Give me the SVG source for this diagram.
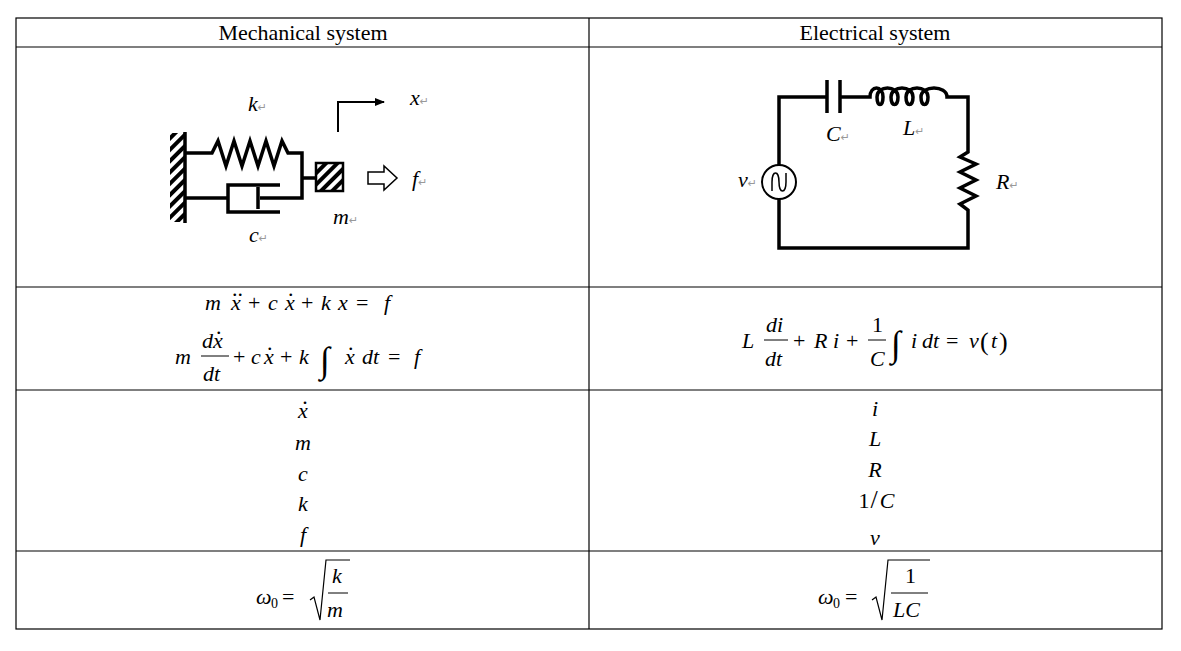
<svg xmlns="http://www.w3.org/2000/svg" width="1181" height="651" viewBox="0 0 1181 651">
<defs>
<style>
.t{font-family:"Liberation Serif",serif;font-size:22px;fill:#000}
.m{font-family:"Liberation Serif",serif;font-style:italic;font-size:22px;fill:#000}
.r{font-family:"Liberation Serif",serif;font-size:22px;fill:#000;font-style:normal}
.d{font-family:"Liberation Serif",serif;font-size:22px;fill:#000}
.p{font-family:"DejaVu Sans",sans-serif;font-size:11px;fill:#999;font-style:normal}
.g{fill:none;stroke:#000;stroke-width:1.2}
.w{fill:none;stroke:#000;stroke-width:3.5}
</style>
<pattern id="h" width="8" height="8" patternUnits="userSpaceOnUse" patternTransform="rotate(45)"><rect width="8" height="8" fill="#fff"/><rect width="4" height="8" fill="#000"/></pattern>
<marker id="ah" markerWidth="10" markerHeight="10" refX="9" refY="5" orient="auto" markerUnits="userSpaceOnUse"><path d="M0,1 L10,5 L0,9 Z"/></marker>
</defs>
<rect width="1181" height="651" fill="#fff"/>
<g id="table" class="g">
<rect x="16" y="18" width="1146" height="611"/>
<line x1="589" y1="18" x2="589" y2="629"/>
<line x1="16" y1="47" x2="1162" y2="47"/>
<line x1="16" y1="287" x2="1162" y2="287"/>
<line x1="16" y1="390" x2="1162" y2="390"/>
<line x1="16" y1="551" x2="1162" y2="551"/>
</g>
<text class="t" x="303" y="40" text-anchor="middle">Mechanical system</text>
<text class="t" x="875" y="40" text-anchor="middle">Electrical system</text>
<g id="mechanical">
<rect x="170" y="133" width="14" height="89" fill="url(#h)"/>
<line class="w" x1="185" y1="132" x2="185" y2="223"/>
<polyline class="w" points="185,153 212,153 218,141 226,166 234,141 242,166 250,141 258,166 266,141 274,166 282,141 288,153 302,153 302,198 260,198"/>
<line class="w" x1="185" y1="198" x2="228" y2="198"/>
<polyline class="w" points="280,185 228,185 228,212 280,212"/>
<line class="w" x1="258" y1="187" x2="258" y2="209"/>
<line class="w" x1="302" y1="178" x2="316" y2="178"/>
<rect x="316" y="163" width="27" height="28" fill="url(#h)" stroke="#000" stroke-width="2.5"/>
<path d="M368,172 L384,172 L384,166 L397,178 L384,190 L384,184 L368,184 Z" fill="#fff" stroke="#000" stroke-width="1.5"/>
<polyline points="338,132 338,102 384,102" fill="none" stroke="#000" stroke-width="2" marker-end="url(#ah)"/>
<text class="m" x="248" y="111">k<tspan class="p">↵</tspan></text>
<text class="m" x="410" y="105">x<tspan class="p">↵</tspan></text>
<text class="m" x="412" y="186">f<tspan class="p">↵</tspan></text>
<text class="m" x="333" y="224">m<tspan class="p">↵</tspan></text>
<text class="m" x="249" y="242">c<tspan class="p">↵</tspan></text>
</g>
<g id="electrical">
<polyline class="w" points="827,97 779,97 779,165"/>
<line class="w" x1="827" y1="80" x2="827" y2="113"/>
<line class="w" x1="840" y1="80" x2="840" y2="113"/>
<path class="w" d="M840,97 L870,97 C870,85 883,85 883,97 C883,107 877,107 877,97 C877,85 898,85 898,97 C898,107 891,107 891,97 C891,85 913,85 913,97 C913,107 906,107 906,97 C906,85 928,85 928,97 C928,107 921,107 921,97 C921,85 947,85 947,97 L968,97 L968,152 L960,157 L976,164 L960,172 L976,180 L960,188 L976,196 L960,204 L968,210 L968,248 L779,248 L779,199"/>
<circle cx="779" cy="182" r="17" fill="#fff" stroke="#000" stroke-width="2"/>
<path d="M772,191 L772,182 C772,170 779,170 779,182 C779,194 786,194 786,182 L786,173" fill="none" stroke="#000" stroke-width="1.5"/>
<text class="m" x="826" y="141">C<tspan class="p">↵</tspan></text>
<text class="m" x="903" y="135">L<tspan class="p">↵</tspan></text>
<text class="m" x="996" y="189">R<tspan class="p">↵</tspan></text>
<text class="m" x="738" y="187">v<tspan class="p">↵</tspan></text>
</g>
<g id="equations">
<text class="m" x="205" y="310">m</text>
<text class="m" x="231" y="310">x</text><text class="d" x="232" y="296">..</text>
<text class="r" x="248" y="310">+</text>
<text class="m" x="268" y="310">c</text>
<text class="m" x="285" y="310">x</text><text class="d" x="288" y="296">.</text>
<text class="r" x="301" y="310">+</text>
<text class="m" x="321" y="310">k</text>
<text class="m" x="338" y="310">x</text>
<text class="r" x="356" y="310">=</text>
<text class="m" x="384" y="310">f</text>

<text class="m" x="175" y="364">m</text>
<text class="m" x="202" y="348">dx</text><text class="d" x="216" y="334">.</text>
<line x1="201" y1="356" x2="229" y2="356" stroke="#000" stroke-width="1"/>
<text class="m" x="203" y="381">dt</text>
<text class="r" x="233" y="364">+</text>
<text class="m" x="251" y="364">c</text>
<text class="m" x="264" y="364">x</text><text class="d" x="267" y="350">.</text>
<text class="r" x="280" y="364">+</text>
<text class="m" x="299" y="364">k</text>
<text class="r" x="320" y="372" style="font-size:36px">∫</text>
<text class="m" x="345" y="364">x</text><text class="d" x="348" y="350">.</text>
<text class="m" x="362" y="364">dt</text>
<text class="r" x="388" y="364">=</text>
<text class="m" x="414" y="364">f</text>

<text class="m" x="742" y="348">L</text>
<text class="m" x="766" y="332">di</text>
<line x1="764" y1="340" x2="788" y2="340" stroke="#000" stroke-width="1"/>
<text class="m" x="765" y="366">dt</text>
<text class="r" x="793" y="348">+</text>
<text class="m" x="814" y="348">R</text>
<text class="m" x="833" y="348">i</text>
<text class="r" x="846" y="348">+</text>
<text class="r" x="872" y="332">1</text>
<line x1="868" y1="340" x2="886" y2="340" stroke="#000" stroke-width="1"/>
<text class="m" x="870" y="366">C</text>
<text class="r" x="891" y="356" style="font-size:36px">∫</text>
<text class="m" x="911" y="348">i</text>
<text class="m" x="922" y="348">dt</text>
<text class="r" x="946" y="348">=</text>
<text class="m" x="969" y="348">v</text>
<text class="r" x="980" y="350" style="font-size:26px">(</text>
<text class="m" x="991" y="348">t</text>
<text class="r" x="999" y="350" style="font-size:26px">)</text>
</g>
<g id="analogies" text-anchor="middle">
<text class="m" x="303" y="418">x</text><text class="d" x="305" y="404">.</text>
<text class="m" x="303" y="450">m</text>
<text class="m" x="303" y="481">c</text>
<text class="m" x="303" y="511">k</text>
<text class="m" x="303" y="542">f</text>
<text class="m" x="875" y="416">i</text>
<text class="m" x="875" y="446">L</text>
<text class="m" x="875" y="477">R</text>
<text class="r" x="864" y="508">1</text>
<text class="r" x="874" y="508" style="font-size:26px">/</text>
<text class="m" x="887" y="508">C</text>
<text class="m" x="875" y="545">v</text>
</g>
<g id="frequency">
<text class="m" x="256" y="604">ω</text><text class="r" x="271" y="608" style="font-size:14px">0</text><text class="r" x="282" y="604">=</text>
<polyline points="310,600 314,597 320,620 326,560 350,560" fill="none" stroke="#000" stroke-width="1.2"/>
<text class="m" x="332" y="583">k</text>
<line x1="328" y1="593" x2="348" y2="593" stroke="#000" stroke-width="1"/>
<text class="m" x="327" y="617">m</text>
<text class="m" x="818" y="604">ω</text><text class="r" x="833" y="608" style="font-size:14px">0</text><text class="r" x="845" y="604">=</text>
<polyline points="872,600 876,597 882,620 888,560 930,560" fill="none" stroke="#000" stroke-width="1.2"/>
<text class="r" x="905" y="583">1</text>
<line x1="891" y1="593" x2="928" y2="593" stroke="#000" stroke-width="1"/>
<text class="m" x="893" y="617">LC</text>
</g>
</svg>
